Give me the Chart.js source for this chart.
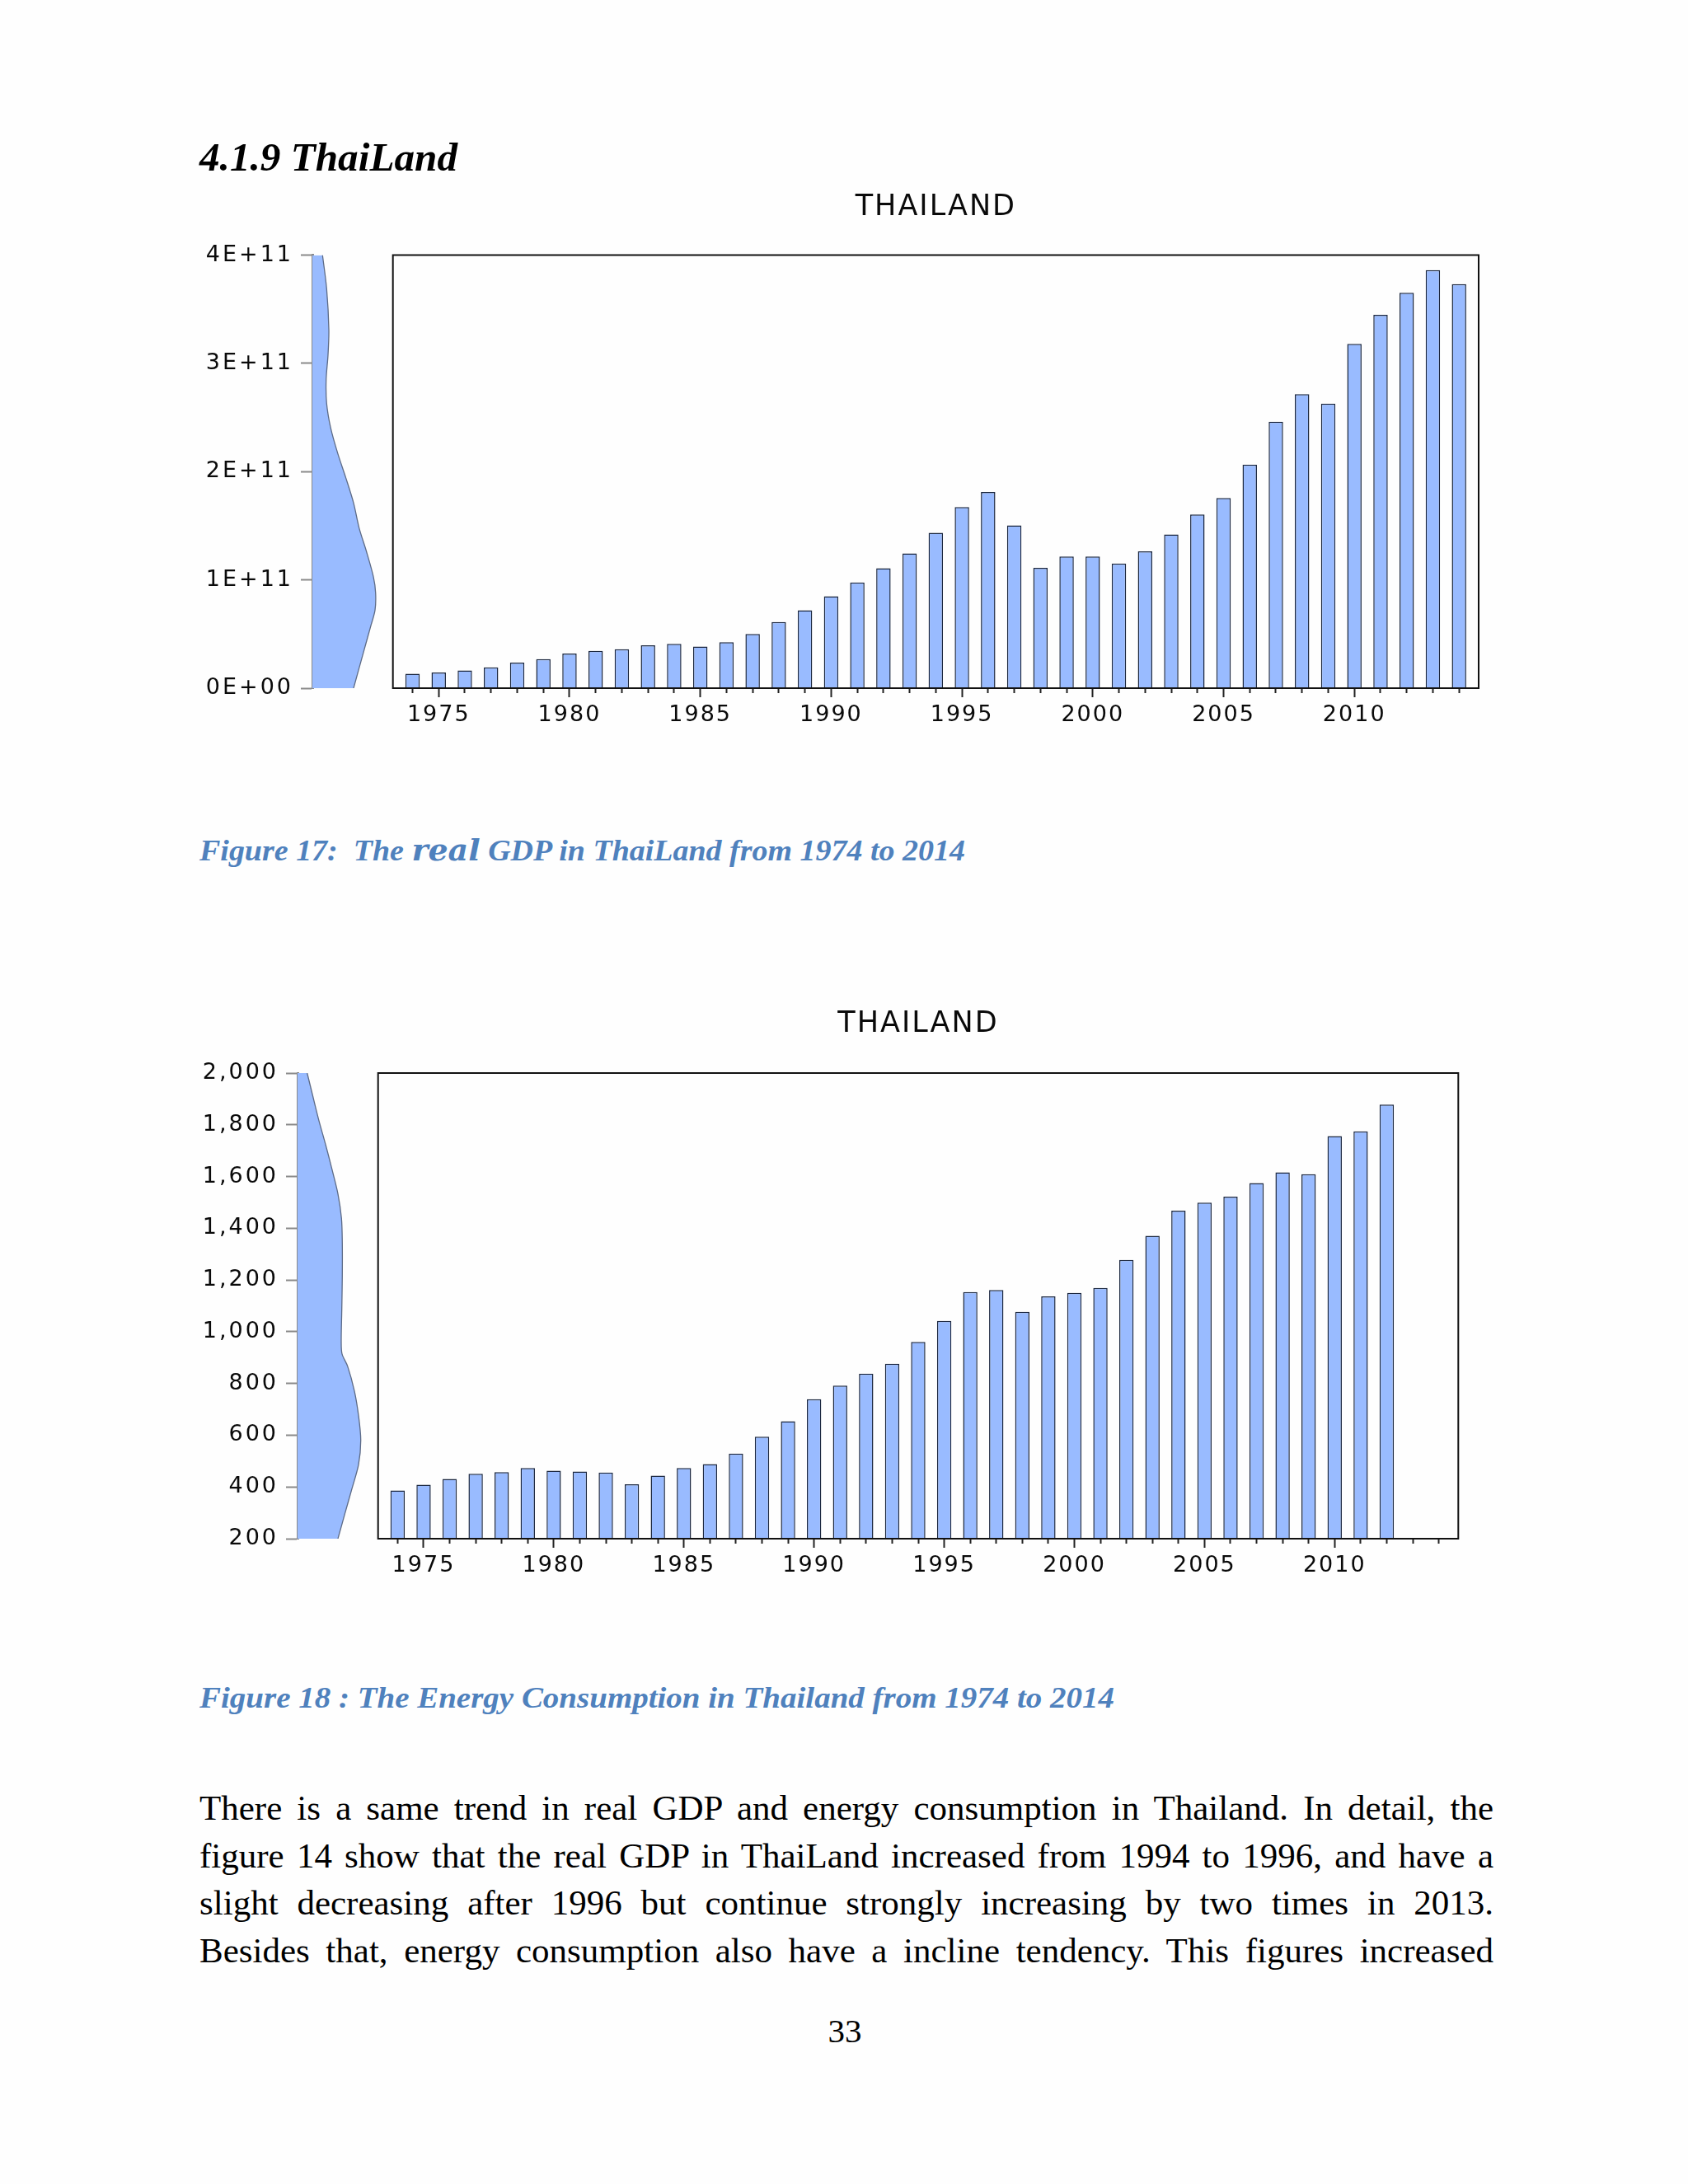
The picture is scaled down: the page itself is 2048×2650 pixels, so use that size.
<!DOCTYPE html>
<html>
<head>
<meta charset="utf-8">
<script src="https://cdn.jsdelivr.net/npm/chart.js@4.4.1/dist/chart.umd.min.js"></script>
<style>
  html, body { margin: 0; padding: 0; background: #fefefe; }
  body { width: 2048px; height: 2650px; position: relative; overflow: hidden; }
  .abs { position: absolute; white-space: nowrap; }
  canvas { position: absolute; }
  .serif { font-family: "Liberation Serif", "Times New Roman", serif; }
  .heading { font-weight: bold; font-style: italic; font-size: 48px; line-height: 48px; color: #000; }
  .cap { font-weight: bold; font-style: italic; font-size: 35px; line-height: 35px; color: #4F81BD; }
  .cap .alt { font-family: "DejaVu Serif", serif; font-weight: bold; font-style: italic; font-size: 1.0em; }
  .body-line { font-size: 43px; line-height: 57.5px; height: 57.5px; color: #000; text-align: justify; text-align-last: justify; width: 1570px; white-space: nowrap; }
  .fit { transform-origin: 0 0; display: inline-block; }
</style>
</head>
<body>

<div class="abs serif heading fit" data-w="313" style="left:242px; top:167px;">4.1.9 ThaiLand</div>

<canvas id="gdpDensity" width="247" height="700" style="left:230px; top:200px;"></canvas>
<canvas id="gdpBars" width="1380" height="700" style="left:440px; top:200px;"></canvas>

<div class="abs serif cap fit" data-w="929" style="left:242px; top:1014px;">Figure 17:&nbsp; The <span class="alt">real</span> GDP in ThaiLand from 1974 to 2014</div>

<canvas id="enDensity" width="249" height="782" style="left:210px; top:1150px;"></canvas>
<canvas id="enBars" width="1380" height="782" style="left:420px; top:1150px;"></canvas>

<div class="abs serif cap fit" data-w="1110" style="left:242px; top:2043px;">Figure 18 : The Energy Consumption in Thailand from 1974 to 2014</div>

<div class="abs serif" style="left:242px; top:2165px;">
  <div class="body-line">There is a same trend in real GDP and energy consumption in Thailand. In detail, the</div>
  <div class="body-line">figure 14 show that the real GDP in ThaiLand increased from 1994 to 1996, and have a</div>
  <div class="body-line">slight decreasing after 1996 but continue strongly increasing by two times in 2013.</div>
  <div class="body-line">Besides that, energy consumption also have a incline tendency. This figures increased</div>
</div>

<div class="abs serif" style="left:925px; top:2436px; width:200px; text-align:center; font-size:41px; line-height:57.5px;">33</div>

<script>
// ---------------- DATA ----------------
const years = [1974,1975,1976,1977,1978,1979,1980,1981,1982,1983,1984,1985,1986,1987,1988,1989,1990,1991,1992,1993,1994,1995,1996,1997,1998,1999,2000,2001,2002,2003,2004,2005,2006,2007,2008,2009,2010,2011,2012,2013,2014];

// Real GDP (constant US$)
const gdpValues = [1.34e10,1.45e10,1.63e10,1.92e10,2.36e10,2.69e10,3.19e10,3.45e10,3.59e10,3.96e10,4.10e10,3.85e10,4.25e10,5.01e10,6.10e10,7.19e10,8.49e10,9.76e10,1.107e11,1.245e11,1.434e11,1.673e11,1.811e11,1.503e11,1.111e11,1.216e11,1.216e11,1.151e11,1.263e11,1.419e11,1.604e11,1.757e11,2.065e11,2.461e11,2.715e11,2.628e11,3.180e11,3.448e11,3.652e11,3.862e11,3.731e11];

// Energy consumption
const energyValues = [386,409,431,451,457,473,463,460,456,410,444,473,488,529,594,654,739,792,838,876,961,1042,1153,1161,1077,1137,1150,1169,1278,1371,1468,1499,1522,1575,1616,1609,1756,1775,1878,null,null];

// Kernel density along the value axis (levels, relative density)
const gdpDensityLevels = [4.0e11,3.69e11,3.31e11,3.08e11,2.85e11,2.63e11,2.40e11,2.17e11,1.94e11,1.71e11,1.48e11,1.26e11,1.03e11,0.88e11,0.72e11,0.57e11,0.34e11,0];
const gdpDensity       = [12.3,17.3,20.0,19.0,16.7,17.3,22.3,30.7,40.7,50.0,56.7,65.7,74.0,76.7,76.0,70.7,62.3,50.0];

const energyDensityLevels = [2000,1914,1819,1724,1629,1533,1438,1343,1216,1089,962,914,867,771,676,581,486,390,295,200];
const energyDensity       = [11.7,18.3,25.7,34.0,41.7,49.0,53.3,54.3,54.3,53.7,53.0,54.0,60.7,69.0,74.0,76.7,74.0,65.7,57.3,49.0];

// Tick labels
const gdpTickValues = [0,1e11,2e11,3e11,4e11];
const gdpTickLabels = ['0E+00','1E+11','2E+11','3E+11','4E+11'];
const energyTickValues = [200,400,600,800,1000,1200,1400,1600,1800,2000];
const energyTickLabels = ['200','400','600','800','1,000','1,200','1,400','1,600','1,800','2,000'];
const xLabelYears = [1975,1980,1985,1990,1995,2000,2005,2010];
const chartTitle = 'THAILAND';

// ---------------- HELPERS ----------------
const FONT = "'DejaVu Sans', 'Liberation Sans', Arial, sans-serif";
const BAR_FILL = '#99BBFF';
const BAR_EDGE = '#1c2840';

const lsPlugin = {
  id: 'ls',
  beforeLayout(chart, args, opts) { chart.ctx.letterSpacing = opts.value || '0px'; },
  beforeDraw(chart, args, opts) { chart.ctx.letterSpacing = opts.value || '0px'; }
};
const framePlugin = {
  id: 'frame',
  afterDatasetsDraw(chart, args, opts) {
    if (!opts.show) return;
    const a = chart.chartArea, c = chart.ctx;
    c.save();
    c.strokeStyle = '#111';
    c.lineWidth = 2;
    c.strokeRect(a.left, a.top, a.right - a.left, a.bottom - a.top);
    c.restore();
  }
};
Chart.register(lsPlugin, framePlugin);

function densityChart(id, levels, dens, yMin, yMax, tickValues, tickLabels, axisWidth, padTop, padBottom, xMax, labelPad) {
  new Chart(document.getElementById(id), {
    type: 'line',
    data: {
      datasets: [{
        data: levels.map((v, i) => ({ x: dens[i], y: v })),
        borderColor: '#5d6b86',
        borderWidth: 1.3,
        backgroundColor: BAR_FILL,
        fill: 'origin',
        pointRadius: 0,
        tension: 0.3
      }]
    },
    options: {
      indexAxis: 'y',
      responsive: false,
      animation: false,
      devicePixelRatio: 1,
      layout: { padding: { top: padTop, bottom: padBottom, left: 0, right: 0 } },
      plugins: { legend: { display: false }, tooltip: { enabled: false }, ls: { value: '3px' }, frame: { show: false } },
      scales: {
        x: { type: 'linear', min: 0, max: xMax, display: false },
        y: {
          type: 'linear', min: yMin, max: yMax, position: 'left',
          afterFit: s => { s.width = axisWidth; },
          afterBuildTicks: s => { s.ticks = tickValues.map(v => ({ value: v })); },
          ticks: {
            autoSkip: false, padding: labelPad, color: '#0a0a0a',
            font: { family: FONT, size: 27 },
            callback: (v) => { const k = tickValues.indexOf(v); return k >= 0 ? tickLabels[k] : ''; }
          },
          grid: { drawOnChartArea: false, drawTicks: true, tickLength: 14, tickColor: '#8a8a8a', tickWidth: 2 },
          border: { display: true, color: '#8a8a8a', width: 3 }
        }
      }
    }
  });
}

function barChart(id, values, yMin, yMax, padLeft, padRight, titleTop, titleBottom) {
  new Chart(document.getElementById(id), {
    type: 'bar',
    data: {
      datasets: [{
        data: years.map((yr, i) => ({ x: yr, y: values[i] })),
        backgroundColor: BAR_FILL,
        borderColor: BAR_EDGE,
        borderWidth: 1.5,
        categoryPercentage: 1.0,
        barPercentage: 0.55
      }]
    },
    options: {
      responsive: false,
      animation: false,
      devicePixelRatio: 1,
      layout: { padding: { top: 0, bottom: 0, left: padLeft, right: padRight } },
      plugins: {
        legend: { display: false }, tooltip: { enabled: false },
        ls: { value: '2px' }, frame: { show: true },
        title: {
          display: true, text: chartTitle, color: '#0a0a0a',
          font: { family: FONT, size: 35, weight: 'normal', lineHeight: 1.2 },
          padding: { top: titleTop, bottom: titleBottom }
        }
      },
      scales: {
        x: {
          type: 'linear', min: 1973.25, max: 2014.75, offset: false,
          afterFit: s => { s.height = 65; },
          afterBuildTicks: s => { s.ticks = years.map(v => ({ value: v })); },
          ticks: {
            autoSkip: false, maxRotation: 0, padding: 6, color: '#0a0a0a',
            font: { family: FONT, size: 27 },
            callback: (v) => xLabelYears.includes(v) ? String(v) : ''
          },
          grid: {
            display: true, offset: false, drawOnChartArea: false, drawTicks: true,
            tickLength: 11, tickWidth: 2, tickColor: '#222',
            tickBorderDash: (ctx) => (ctx.tick && ctx.tick.value % 5 === 0) ? [] : [6, 40]
          },
          border: { display: false }
        },
        y: { type: 'linear', min: yMin, max: yMax, display: false }
      }
    }
  });
}

// ---------------- CHARTS ----------------
densityChart('gdpDensity', gdpDensityLevels, gdpDensity, 0, 4e11, gdpTickValues, gdpTickLabels, 149, 109.5, 65, 98, 9);
barChart('gdpBars', gdpValues, 0, 4e11, 36.7, 26, 31, 36.5);

densityChart('enDensity', energyDensityLevels, energyDensity, 200, 2000, energyTickValues, energyTickLabels, 151, 152, 65, 98, 9);
barChart('enBars', energyValues, 200, 2000, 38.7, 30.7, 72, 38);

// ---------------- TEXT FITTING ----------------
document.querySelectorAll('.fit').forEach(el => {
  const target = parseFloat(el.dataset.w);
  const w = el.getBoundingClientRect().width;
  if (w > 0) el.style.transform = 'scaleX(' + (target / w) + ')';
});
</script>
</body>
</html>
